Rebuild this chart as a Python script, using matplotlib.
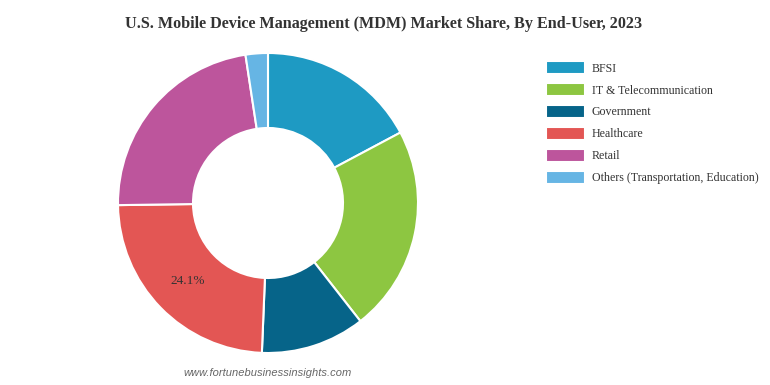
import matplotlib
matplotlib.use("Agg")
import matplotlib.pyplot as plt
import numpy as np

categorias = ["BFSI", "IT & Telecommunication", "Government", "Healthcare",
              "Retail", "Others (Transportation, Education)"]
valores = [17.2, 22.2, 11.2, 24.1, 22.8, 2.4]
cores = ["#1E9AC3", "#8DC641", "#066489", "#E35654", "#BD559C", "#66B5E4"]
rotulo_visivel = "Healthcare"

plt.rcParams["font.family"] = ["Liberation Serif", "DejaVu Serif"]

fig = plt.figure(figsize=(7.7, 3.85), dpi=100)
fig.patch.set_facecolor("white")

# eixo do donut: centro (268, 203) px, raio ~150 px
W, H = 770, 385
cx, cy, r = 268, 203, 150
ax = fig.add_axes([(cx - r) / W, (H - cy - r) / H, 2 * r / W, 2 * r / H])

wedges, _ = ax.pie(
    valores,
    colors=cores,
    startangle=90,
    counterclock=False,
    radius=1.0,
    wedgeprops=dict(width=0.5, edgecolor="white", linewidth=1.5),
)
ax.set_xlim(-1, 1)
ax.set_ylim(-1, 1)
ax.set_aspect("equal")
ax.axis("off")

# rótulo percentual apenas no setor de Healthcare
total = sum(valores)
inicio = 90.0
for nome, v in zip(categorias, valores):
    ang = inicio - v / total * 360 / 2
    if nome == rotulo_visivel:
        a = np.deg2rad(ang)
        ax.text(0.75 * np.cos(a), 0.75 * np.sin(a), f"{v:.1f}%",
                ha="center", va="center", fontsize=9.5, color="#333333")
    inicio -= v / total * 360

fig.text(384 / W, 1 - 24 / H,
         "U.S. Mobile Device Management (MDM) Market Share, By End-User, 2023",
         ha="center", va="center", fontsize=11.6, fontweight="bold", color="#333333")

fig.legend(wedges, categorias, loc="upper left",
           bbox_to_anchor=(546 / W, 1 - 61 / H), borderpad=0, borderaxespad=0,
           frameon=False, fontsize=8.6, handlelength=3.3, handleheight=1.3,
           handletextpad=0.55, labelspacing=0.71, labelcolor="#333333")

fig.text(268 / W, 1 - 373 / H, "www.fortunebusinessinsights.com",
         ha="center", va="center", fontsize=8, style="italic",
         color="#666666", family=["Liberation Sans", "DejaVu Sans"])

fig.savefig("out.png", dpi=100, facecolor="white")
